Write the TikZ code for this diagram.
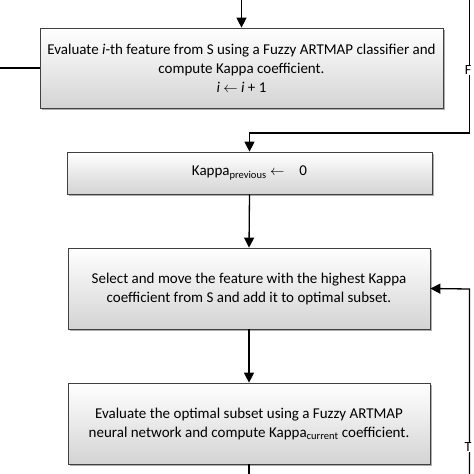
\documentclass[tikz,border=0pt]{standalone}
\usepackage{fontspec}
\setmainfont{Carlito}
\usetikzlibrary{arrows.meta,shadows,positioning}
\begin{document}
\begin{tikzpicture}[x=1pt,y=-1pt,
  procbox/.style={draw=black!75, line width=0.7pt, rectangle, align=center,
    top color=white, bottom color=black!17,
    drop shadow={shadow xshift=2pt, shadow yshift=-2pt, fill=black!45, opacity=0.7},
    font=\fontsize{15}{19}\selectfont, inner sep=0pt},
  conn/.style={line width=1.3pt, draw=black},
  arr/.style={conn, -{Triangle[length=10pt,width=10pt]}},
  lbl/.style={fill=white, inner sep=1pt, font=\fontsize{14}{16}\selectfont}]
\useasboundingbox (0,0) rectangle (474,474);
\fill[white] (0,0) rectangle (474,474);

\node[procbox, minimum width=403pt, minimum height=80pt] (b1) at (241.5,68)
  {Evaluate \textit{i}-th feature from S using a Fuzzy ARTMAP classifier and\\
   compute Kappa coefficient.\\ \textit{i} $\leftarrow$ \textit{i} + 1};
\node[procbox, minimum width=365pt, minimum height=42pt] (b2) at (249.5,173)
  {Kappa\textsubscript{previous} $\leftarrow$\quad 0};
\node[procbox, minimum width=362pt, minimum height=81pt] (b3) at (249,288.5)
  {Select and move the feature with the highest Kappa\\
   coefficient from S and add it to optimal subset.};
\node[procbox, minimum width=362pt, minimum height=81pt] (b4) at (249,423.5)
  {Evaluate the optimal subset using a Fuzzy ARTMAP\\
   neural network and compute Kappa\textsubscript{current} coefficient.};

\coordinate (topin) at (241.5,0);
\coordinate (leftout) at (0,68);
\coordinate (rtop) at (469.5,0);
\coordinate (rcorner) at (469.5,133);
\coordinate (b2in) at (249.5,133);
\coordinate (rbot) at (469.5,474);
\coordinate (rmid) at (469.5,289);
\coordinate (b4out) at (249,474);

\draw[arr] (topin) -- (b1.north);
\draw[conn] (b1.west) -- (leftout);
\draw[arr] (rtop) -- (rcorner) -- (b2in) -- (b2.north);
\node[lbl] (F) at (468,70) {F};
\draw[arr] (b2.south) -- (b3.north);
\draw[arr] (b3.south) -- (b4.north);
\draw[conn] (b4.south) -- (b4out);
\draw[arr] (rbot) -- (rmid) -- (b3.east);
\node[lbl] (T) at (468,447) {T};
\end{tikzpicture}
\end{document}
